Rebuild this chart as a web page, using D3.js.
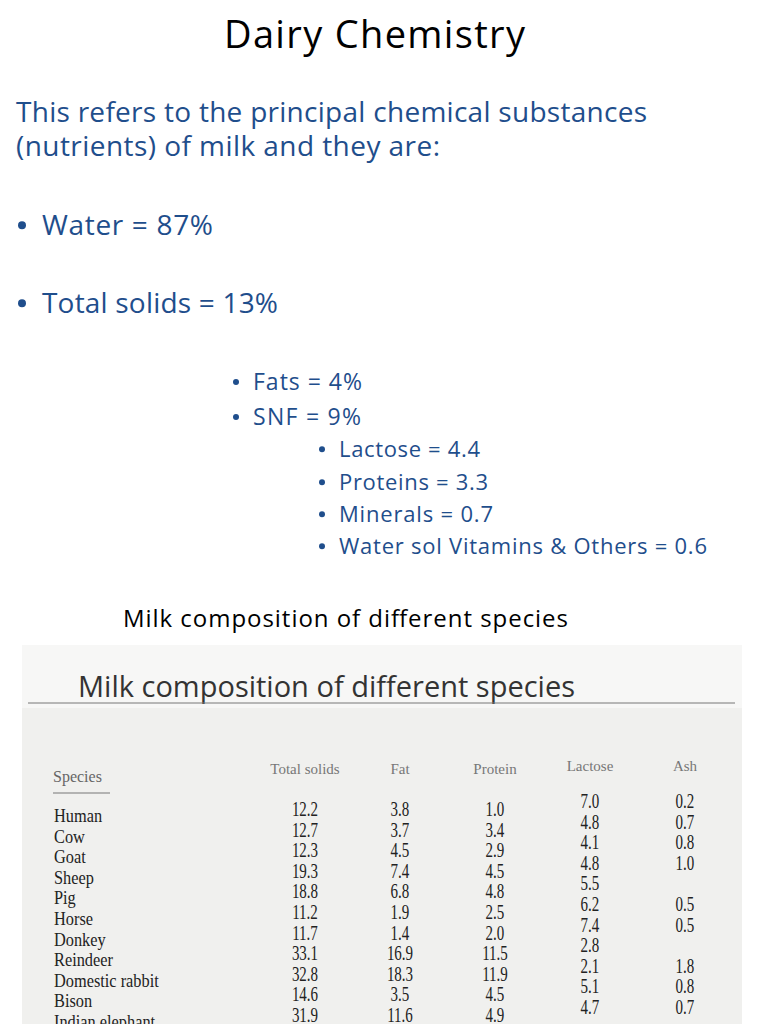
<!DOCTYPE html>
<html><head><meta charset="utf-8">
<script src="https://cdn.jsdelivr.net/npm/d3@7"></script>
<style>body{margin:0;background:#fff}</style>
</head><body><div id="slide"></div>
<script>
const species = ["Human", "Cow", "Goat", "Sheep", "Pig", "Horse", "Donkey", "Reindeer", "Domestic rabbit", "Bison", "Indian elephant"];
const totalSolids = ["12.2", "12.7", "12.3", "19.3", "18.8", "11.2", "11.7", "33.1", "32.8", "14.6", "31.9"];
const fat = ["3.8", "3.7", "4.5", "7.4", "6.8", "1.9", "1.4", "16.9", "18.3", "3.5", "11.6"];
const protein = ["1.0", "3.4", "2.9", "4.5", "4.8", "2.5", "2.0", "11.5", "11.9", "4.5", "4.9"];
const lactose = ["7.0", "4.8", "4.1", "4.8", "5.5", "6.2", "7.4", "2.8", "2.1", "5.1", "4.7"];
const ash = ["0.2", "0.7", "0.8", "1.0", "", "0.5", "0.5", "", "1.8", "0.8", "0.7"];
const headers = ["Total solids", "Fat", "Protein", "Lactose", "Ash"];
const columns = [totalSolids, fat, protein, lactose, ash];

const width = 768, height = 1024;
const svg = d3.select("#slide").append("svg").attr("width", width).attr("height", height)
  .style("font-family", "'Open Sans', 'Noto Sans', sans-serif");
const blue = "#1f4e8c";

svg.append("text").attr("x", 224).attr("y", 48).attr("textLength", 301)
  .style("font-size", "38px").attr("fill", "#000").text("Dairy Chemistry");

const lines = [
  { t: "This refers to the principal chemical substances", x: 16, y: 122, s: 28, w: 631, b: false },
  { t: "(nutrients) of milk and they are:", x: 16, y: 156, s: 28, w: 424, b: false },
  { t: "Water = 87%", x: 42, y: 235, s: 28, w: 171, b: true, bx: 22 },
  { t: "Total solids = 13%", x: 42, y: 313, s: 28, w: 236, b: true, bx: 22 },
  { t: "Fats = 4%", x: 253, y: 390, s: 23, w: 109, b: true, bx: 236 },
  { t: "SNF = 9%", x: 253, y: 425, s: 23, w: 108, b: true, bx: 236 },
  { t: "Lactose = 4.4", x: 339, y: 457, s: 22, w: 141, b: true, bx: 322 },
  { t: "Proteins = 3.3", x: 339, y: 490, s: 22, w: 149, b: true, bx: 322 },
  { t: "Minerals = 0.7", x: 339, y: 522, s: 22, w: 154, b: true, bx: 322 },
  { t: "Water sol Vitamins & Others = 0.6", x: 339, y: 554, s: 22, w: 368, b: true, bx: 322 }
];
const g = svg.append("g");
g.selectAll("text.l").data(lines).join("text").attr("class", "l")
  .attr("x", d => d.x).attr("y", d => d.y).attr("textLength", d => d.w)
  .style("font-size", d => d.s + "px").attr("fill", blue).text(d => d.t);
g.selectAll("circle").data(lines.filter(d => d.b)).join("circle")
  .attr("cx", d => d.bx).attr("cy", d => d.y - d.s * 0.35).attr("r", d => d.s > 25 ? 4 : 3)
  .attr("fill", blue);

svg.append("text").attr("x", 123).attr("y", 627).attr("textLength", 445)
  .style("font-size", "24px").attr("fill", "#000").text("Milk composition of different species");

// scanned table
svg.append("rect").attr("x", 22).attr("y", 645).attr("width", 720).attr("height", 379).attr("fill", "#f7f7f6");
svg.append("rect").attr("x", 22).attr("y", 708).attr("width", 720).attr("height", 316).attr("fill", "#f0f0ee");
svg.append("text").attr("x", 78).attr("y", 697).style("font-size", "29px")
  .style("font-family", "'Liberation Sans Narrow', 'Open Sans', sans-serif").attr("fill", "#333")
  .attr("textLength", 497).text("Milk composition of different species");
svg.append("line").attr("x1", 28).attr("x2", 735).attr("y1", 703).attr("y2", 703).attr("stroke", "#777");

const serif = "'Liberation Serif', 'DejaVu Serif', serif";
const y = d3.scalePoint().domain(species).range([815, 1021]);
const x = d3.scalePoint().domain(headers).range([305, 685]);
const colOffset = [-6, -6, -6, -14, -14];

svg.append("text").attr("x", 53).attr("y", 782).style("font-family", serif).style("font-size", "16px")
  .attr("fill", "#666").text("Species");
svg.append("line").attr("x1", 53).attr("x2", 110).attr("y1", 793).attr("y2", 793).attr("stroke", "#777");
svg.selectAll("text.h").data(headers).join("text").attr("class", "h")
  .attr("x", d => x(d)).attr("y", (d, i) => i > 2 ? 771 : 774).attr("text-anchor", "middle")
  .style("font-family", serif).style("font-size", "15px").attr("fill", "#777").text(d => d);

svg.selectAll("text.sp").data(species).join("text").attr("class", "sp")
  .attr("x", 54).attr("y", d => y(d) + 7).style("font-family", serif).style("font-size", "19px")
  .attr("fill", "#222").attr("transform", `translate(54,0) scale(0.86,1) translate(-54,0)`)
  .text(d => d);

columns.forEach((col, ci) => {
  svg.append("g").selectAll("text").data(col).join("text")
    .attr("x", x(headers[ci])).attr("y", (d, i) => y(species[i]) + colOffset[ci] + 7)
    .attr("text-anchor", "middle").style("font-family", serif).style("font-size", "20px")
    .attr("fill", "#222").attr("transform", `translate(${x(headers[ci])},0) scale(0.75,1) translate(${-x(headers[ci])},0)`)
    .text(d => d);
});
</script></body></html>
